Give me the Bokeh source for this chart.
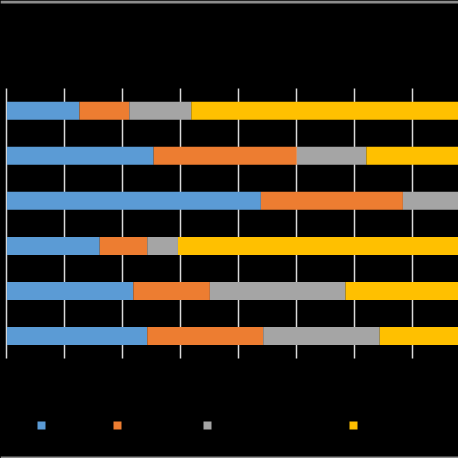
import numpy as np
from bokeh.plotting import figure
from bokeh.models import (ColumnDataSource, FixedTicker, Legend, LegendItem,
                          BoxAnnotation, Range1d)
from bokeh.core.properties import value
from bokeh.embed import file_html
from bokeh.resources import INLINE

# rows from top to bottom, shares in percent (100% stacked bars)
rows = [1, 2, 3, 4, 5, 6]
blue = [12.5, 25.3, 43.8, 16.0, 21.8, 24.2]
orange = [8.6, 24.7, 24.5, 8.2, 13.2, 20.0]
gray = [10.7, 12.0, 14.0, 5.3, 23.4, 20.1]
yellow = [68.2, 38.0, 17.7, 70.5, 41.6, 35.7]

series = ["blue", "orange", "gray", "yellow"]
colors = ["#5B9BD5", "#ED7D31", "#A5A5A5", "#FFC000"]
grid_ticks = [0, 10, 20, 30, 40, 50, 60, 70]

W, H = 458, 458


def main():
    source = ColumnDataSource(data=dict(y=[7 - r for r in rows], blue=blue,
                                        orange=orange, gray=gray, yellow=yellow))

    # frame covers the whole canvas; the chart is cut off on the right
    p = figure(width=W, height=H, output_backend="svg", toolbar_location=None,
               x_range=Range1d(-1.116, 77.89), y_range=Range1d(-1.715, 8.443),
               min_border=0)
    p.background_fill_color = "black"
    p.border_fill_color = "black"
    p.outline_line_color = None
    p.styles = {"background-color": "black"}

    renderers = p.hbar_stack(series, y="y", height=0.4, color=colors,
                             line_color=None, source=source)

    p.xaxis.visible = False
    p.yaxis.visible = False
    p.ygrid.visible = False
    p.xgrid.ticker = FixedTicker(ticks=grid_ticks)
    p.xgrid.cross_bounds = (0.5, 6.5)
    p.xgrid.grid_line_color = "#d9d9d9"
    p.xgrid.grid_line_width = 1.5

    # one legend per square so the gaps match the picture
    offsets = [36, 112, 202, 348]
    for r, off in zip(renderers, offsets):
        leg = Legend(items=[LegendItem(label=value(""), renderers=[r])],
                     location=(off, 28), orientation="horizontal",
                     glyph_width=10, glyph_height=10, label_standoff=0,
                     padding=0, margin=0, spacing=0, border_line_color=None,
                     background_fill_alpha=0)
        p.add_layout(leg, "center")

    # thin gray edges of the chart area
    for t, b in [(0, 2), (H - 3, H)]:
        p.add_layout(BoxAnnotation(left=0, right=W, top=t, bottom=b,
                                   left_units="screen", right_units="screen",
                                   top_units="screen", bottom_units="screen",
                                   fill_color="#8c8c8c", fill_alpha=1,
                                   line_color=None))

    open("out.html", "w").write(file_html(p, INLINE))


if __name__ == '__main__':
    main()
